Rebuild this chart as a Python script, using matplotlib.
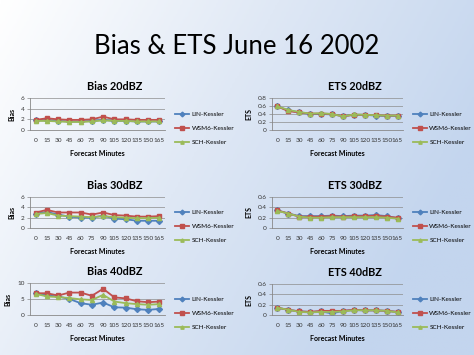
import numpy as np
import matplotlib
matplotlib.use("Agg")
import matplotlib.pyplot as plt
from matplotlib.colors import LinearSegmentedColormap

plt.rcParams['font.family'] = ['Lato', 'DejaVu Sans']

minutes = [0, 15, 30, 45, 60, 75, 90, 105, 120, 135, 150, 165]
series_names = ["LIN-Kessler", "WSM6-Kessler", "SCH-Kessler"]
colors = ["#4F81BD", "#C0504D", "#9BBB59"]
markers = ["D", "s", "^"]

bias20_lin = [1.8, 1.8, 1.7, 1.6, 1.6, 1.7, 1.9, 1.7, 1.7, 1.6, 1.6, 1.6]
bias20_wsm6 = [1.9, 2.2, 2.0, 1.9, 1.9, 2.0, 2.5, 2.0, 2.0, 1.9, 1.9, 1.9]
bias20_sch = [1.7, 1.7, 1.6, 1.5, 1.5, 1.6, 1.8, 1.7, 1.7, 1.6, 1.6, 1.6]

bias30_lin = [2.8, 3.1, 2.6, 2.2, 2.0, 2.0, 2.4, 1.8, 1.7, 1.4, 1.4, 1.4]
bias30_wsm6 = [3.0, 3.5, 3.0, 3.0, 3.0, 2.6, 3.0, 2.5, 2.4, 2.2, 2.2, 2.3]
bias30_sch = [2.7, 2.9, 2.4, 2.3, 2.2, 2.1, 2.3, 2.1, 2.0, 1.9, 1.9, 2.0]

bias40_lin = [6.8, 6.1, 5.8, 5.0, 3.7, 3.2, 3.9, 2.4, 2.3, 1.8, 1.6, 1.9]
bias40_wsm6 = [6.8, 6.8, 6.1, 7.0, 7.0, 6.0, 8.2, 5.5, 5.2, 4.3, 4.0, 4.2]
bias40_sch = [6.6, 5.8, 5.6, 5.3, 4.9, 4.7, 6.3, 4.2, 3.7, 3.4, 3.2, 3.4]

ets20_lin = [0.59, 0.49, 0.44, 0.40, 0.40, 0.39, 0.35, 0.38, 0.38, 0.36, 0.35, 0.35]
ets20_wsm6 = [0.59, 0.47, 0.44, 0.41, 0.41, 0.40, 0.34, 0.38, 0.38, 0.37, 0.36, 0.36]
ets20_sch = [0.59, 0.50, 0.45, 0.41, 0.42, 0.40, 0.34, 0.39, 0.38, 0.37, 0.36, 0.36]

ets30_lin = [0.34, 0.28, 0.23, 0.23, 0.23, 0.24, 0.23, 0.24, 0.24, 0.25, 0.23, 0.19]
ets30_wsm6 = [0.34, 0.28, 0.22, 0.22, 0.22, 0.23, 0.22, 0.23, 0.23, 0.24, 0.22, 0.20]
ets30_sch = [0.33, 0.28, 0.22, 0.20, 0.20, 0.21, 0.21, 0.21, 0.21, 0.21, 0.20, 0.18]

ets40_lin = [0.14, 0.10, 0.07, 0.06, 0.07, 0.03, 0.08, 0.10, 0.09, 0.09, 0.08, 0.06]
ets40_wsm6 = [0.14, 0.10, 0.07, 0.06, 0.08, 0.08, 0.08, 0.10, 0.09, 0.09, 0.08, 0.06]
ets40_sch = [0.14, 0.10, 0.06, 0.05, 0.06, 0.06, 0.07, 0.09, 0.09, 0.09, 0.08, 0.05]

panels = [
    ("Bias 20dBZ", "Bias", [bias20_lin, bias20_wsm6, bias20_sch], 6, [0, 2, 4, 6], [30, 98, 135, 32]),
    ("ETS 20dBZ", "ETS", [ets20_lin, ets20_wsm6, ets20_sch], 0.8, [0, 0.2, 0.4, 0.6, 0.8], [272, 98, 131, 32]),
    ("Bias 30dBZ", "Bias", [bias30_lin, bias30_wsm6, bias30_sch], 6, [0, 2, 4, 6], [30, 197, 135, 31]),
    ("ETS 30dBZ", "ETS", [ets30_lin, ets30_wsm6, ets30_sch], 0.6, [0, 0.2, 0.4, 0.6], [272, 197, 131, 31]),
    ("Bias 40dBZ", "Bias", [bias40_lin, bias40_wsm6, bias40_sch], 10, [0, 5, 10], [30, 283, 135, 32]),
    ("ETS 40dBZ", "ETS", [ets40_lin, ets40_wsm6, ets40_sch], 0.6, [0, 0.2, 0.4, 0.6], [272, 284, 131, 31]),
]

W, H = 474, 355
fig = plt.figure(figsize=(W / 100, H / 100), dpi=100)

# slide background: white at top-left fading to pale blue
bg = fig.add_axes([0, 0, 1, 1], zorder=-10)
cmap = LinearSegmentedColormap.from_list("slide", ["#ffffff", "#dfe8f5", "#c3d5ee"])
gx, gy = np.meshgrid(np.linspace(0, 1, 200), np.linspace(0, 1, 150))
grad = np.clip(0.85 * gx + 0.35 * gy, 0, 1)
bg.imshow(grad, aspect="auto", cmap=cmap, extent=[0, 1, 0, 1], origin="upper")
bg.axis("off")

fig.text(0.5, 1 - 46 / H, "Bias & ETS June 16 2002", ha="center", va="center", fontsize=18.5)

for title, ylab, data, ymax, yticks, (px, py, pw, ph) in panels:
    ax = fig.add_axes([px / W, 1 - (py + ph) / H, pw / W, ph / H])
    ax.set_facecolor("none")
    pos = np.arange(len(minutes))
    for vals, name, c, m in zip(data, series_names, colors, markers):
        ax.plot(pos, vals, color=c, marker=m, markersize=3, linewidth=1.3, label=name)
    ax.set_xlim(-0.5, len(minutes) - 0.5)
    ax.set_ylim(0, ymax)
    ax.set_yticks(yticks)
    ax.set_yticklabels([f"{t:g}" for t in yticks])
    ax.set_xticks(pos)
    ax.set_xticklabels([str(m) for m in minutes])
    ax.tick_params(labelsize=4.6, length=2, width=0.5, color="#888888", labelcolor="#333333", pad=2)
    ax.tick_params(axis="x", length=0, pad=6)
    ax.grid(axis="y", color="#8c8c8c", linewidth=0.5)
    ax.set_axisbelow(True)
    for s in ["top", "right"]:
        ax.spines[s].set_visible(False)
    for s in ["left", "bottom"]:
        ax.spines[s].set_color("#888888")
        ax.spines[s].set_linewidth(0.6)
    # chart title is centred over the whole chart box (plot + legend)
    ax.set_title(title, fontsize=7.8, fontweight="bold", pad=6, x=0.63)
    ax.set_xlabel("Forecast Minutes", fontsize=5, fontweight="bold", labelpad=5)
    ax.set_ylabel(ylab, fontsize=5, fontweight="bold", labelpad=4)
    ax.legend(loc="center left", bbox_to_anchor=(1.03, 0.05), frameon=False, fontsize=4.6,
              handlelength=2.2, labelspacing=1.35, handletextpad=0.4, markerscale=0.8)

fig.savefig("out.png", dpi=100)
